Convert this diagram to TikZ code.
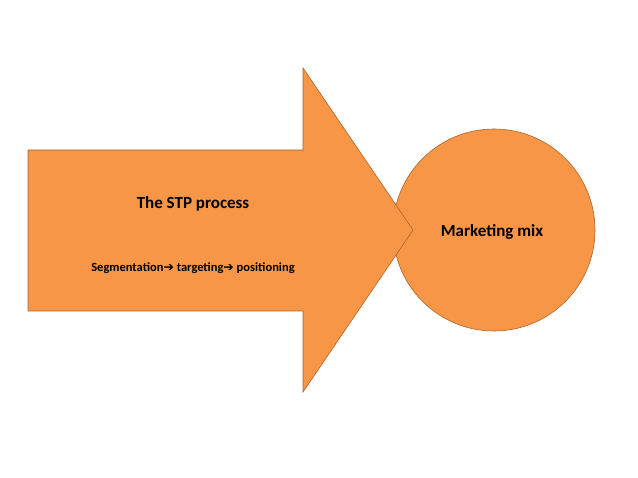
\documentclass[tikz,border=0pt]{standalone}
\usepackage{fontspec}
\setmainfont{Carlito}
\newfontfamily\symf{DejaVu Sans}
\definecolor{orfill}{HTML}{F79646}
\definecolor{orline}{HTML}{B0642A}
\begin{document}
\begin{tikzpicture}[x=1pt,y=-1pt,
  shapestyle/.style={fill=orfill,draw=orline,line width=0.6pt},
  lbl/.style={font=\bfseries, text=black}]
\useasboundingbox (0,0) rectangle (638,478);
\node[shapestyle,circle,minimum size=202pt,inner sep=0pt] (mix) at (494,230) {};
\draw[shapestyle] (28,150) -- (303,150) -- (303,68) -- (413,230) -- (303,392) -- (303,311) -- (28,311) -- cycle;
\node[lbl,font=\bfseries\fontsize{17}{20}\selectfont] (stp) at (193,204) {The STP process};
\node[lbl,font=\bfseries\fontsize{12.5}{15}\selectfont] (seg) at (193,268) {Segmentation{\symf ➔} targeting{\symf ➔} positioning};
\node[lbl,font=\bfseries\fontsize{17}{20}\selectfont] (mm) at (492,232) {Marketing mix};
\end{tikzpicture}
\end{document}
